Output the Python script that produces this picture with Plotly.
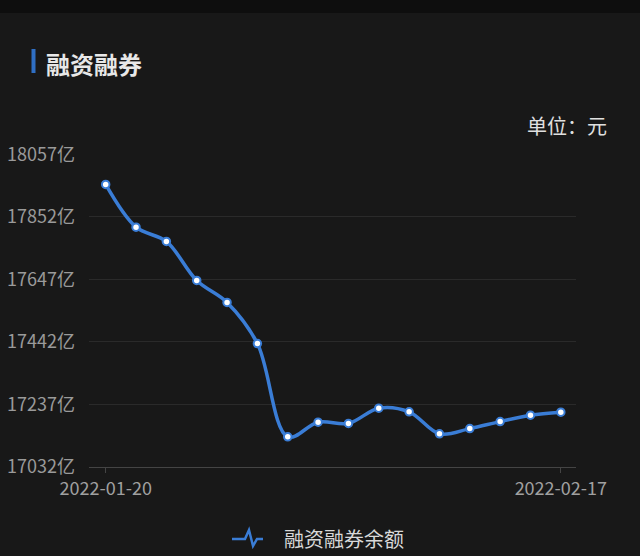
import plotly.graph_objects as go

dates = ["2022-01-20", "2022-01-21", "2022-01-24", "2022-01-25", "2022-01-26",
         "2022-01-27", "2022-01-28", "2022-02-07", "2022-02-08", "2022-02-09",
         "2022-02-10", "2022-02-11", "2022-02-14", "2022-02-15", "2022-02-16",
         "2022-02-17"]
balance = [17958, 17818, 17771, 17643, 17571, 17436, 17130, 17178, 17174, 17224,
           17212, 17140, 17157, 17180, 17201, 17211]
y_ticks = [17032, 17237, 17442, 17647, 17852, 18057]
y_tick_text = [f"{v}亿" for v in y_ticks]
x_tick_vals = [dates[0], dates[-1]]
series_name = "融资融券余额"
title_text = "融资融券"
unit_text = "单位：元"

W, H = 640, 556
L, R, T, B = 89, 576, 154, 467
BG = "#181818"
BLUE = "#3a7dd6"
FONT = "Noto Sans CJK SC, Noto Sans, Roboto, sans-serif"


def px(x):
    return (x - L) / (R - L)


def py(y):
    return (B - y) / (B - T)


fig = go.Figure()
fig.add_trace(go.Scatter(
    x=dates, y=balance, mode="lines+markers", name=series_name,
    line=dict(color=BLUE, width=3.5, shape="spline", smoothing=1),
    marker=dict(size=7.5, color="white", line=dict(color=BLUE, width=2)),
    showlegend=False, cliponaxis=False,
))

icon = [(232, 539), (245, 539), (249, 530), (253, 546), (257, 539), (263, 539)]
path = "M " + " L ".join(f"{px(a):.4f},{py(b):.4f}" for a, b in icon)

fig.update_layout(
    width=W, height=H,
    margin=dict(l=L, r=W - R, t=T, b=H - B),
    paper_bgcolor=BG, plot_bgcolor=BG,
    font=dict(family=FONT, color="#9a9a9a", size=18),
    xaxis=dict(
        type="category", range=[-0.55, 15.5], automargin=False,
        tickmode="array", tickvals=x_tick_vals,
        showgrid=False, showline=True, linecolor="#444444", linewidth=1,
        ticks="outside", ticklen=5, tickcolor="#444444",
        tickfont=dict(size=18, color="#a0a0a0"), zeroline=False,
    ),
    yaxis=dict(
        range=[17031, 18058], tickmode="array", tickvals=y_ticks, ticktext=y_tick_text,
        automargin=False,
        showgrid=True, gridcolor="#2a2a2a", gridwidth=1, zeroline=False,
        showline=False, ticks="", ticklabelstandoff=13,
        tickfont=dict(size=18, color="#9a9a9a"),
    ),
    shapes=[
        dict(type="rect", xref="paper", yref="paper", x0=px(0), x1=px(W), y0=py(0), y1=py(13),
             fillcolor="#0e0e0e", line=dict(width=0), layer="below"),
        dict(type="rect", xref="paper", yref="paper", x0=px(31.5), x1=px(35.5), y0=py(49), y1=py(73),
             fillcolor="#2f6fc4", line=dict(width=0)),
        dict(type="path", xref="paper", yref="paper", path=path,
             line=dict(color=BLUE, width=2.5)),
    ],
    annotations=[
        dict(text=f"<b>{title_text}</b>", xref="paper", yref="paper", x=px(44), y=py(63),
             xanchor="left", yanchor="middle", showarrow=False,
             font=dict(size=24, color="#e8e8e8", family=FONT)),
        dict(text=unit_text, xref="paper", yref="paper", x=px(609), y=py(125),
             xanchor="right", yanchor="middle", showarrow=False,
             font=dict(size=20, color="#e0e0e0", family=FONT)),
        dict(text=series_name, xref="paper", yref="paper", x=px(282), y=py(538),
             xanchor="left", yanchor="middle", showarrow=False,
             font=dict(size=20, color="#d8d8d8", family=FONT)),
    ],
)

fig.write_html("out.html")
